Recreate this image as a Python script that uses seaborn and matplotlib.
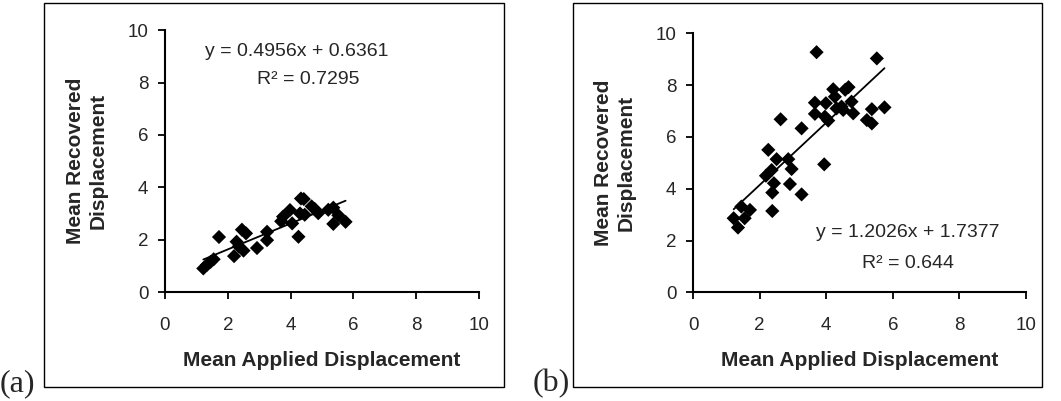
import matplotlib
matplotlib.use("Agg")
import matplotlib.pyplot as plt
import seaborn as sns
import numpy as np
import pandas as pd
from matplotlib.patches import Rectangle

# ---- data ----
applied_a = [1.22, 1.33, 1.45, 1.55, 1.72, 2.20, 2.28, 2.35, 2.45, 2.58, 2.50, 2.93,
             3.25, 3.25, 3.70, 3.76, 3.98, 4.05, 4.25, 4.33, 4.42, 4.30, 4.45, 4.67,
             4.77, 4.88, 5.20, 5.36, 5.36, 5.52, 5.75]
recovered_a = [0.90, 1.03, 1.15, 1.25, 2.10, 1.37, 1.92, 1.74, 2.38, 2.24, 1.58, 1.68,
               2.30, 1.98, 2.70, 2.88, 3.13, 2.62, 2.11, 3.57, 3.55, 3.00, 2.95, 3.27,
               3.17, 3.01, 3.14, 3.22, 2.60, 2.93, 2.68]

applied_b = [3.71, 5.52, 4.21, 4.67, 4.57, 4.26, 3.66, 3.99, 4.76, 4.31, 4.46, 4.51,
             5.37, 5.75, 3.66, 3.96, 4.06, 4.81, 5.22, 5.37, 2.63, 3.26, 2.26, 2.51,
             2.86, 2.19, 2.36, 2.96, 3.94, 2.43, 2.91, 2.38, 3.26, 2.38, 1.45, 1.71,
             1.22, 1.55, 1.35]
recovered_b = [9.27, 9.03, 7.84, 7.92, 7.82, 7.55, 7.32, 7.30, 7.36, 7.10, 7.17, 7.04,
               7.07, 7.14, 6.89, 6.78, 6.63, 6.91, 6.65, 6.52, 6.68, 6.33, 5.50, 5.14,
               5.14, 4.50, 4.72, 4.76, 4.94, 4.21, 4.18, 3.85, 3.78, 3.14, 3.31, 3.18,
               2.86, 2.86, 2.50]

slope_a, intercept_a, r2_a = 0.4956, 0.6361, "0.7295"
slope_b, intercept_b, r2_b = 1.2026, 1.7377, "0.644"

ticks = [0, 2, 4, 6, 8, 10]
xlabel = "Mean Applied Displacement"
ylabel = "Mean Recovered\nDisplacement"

sns.set_theme(style="white")
plt.rcParams["font.family"] = ["Liberation Sans", "DejaVu Sans"]

fig = plt.figure(figsize=(10.61, 4.01), dpi=100)
fig.patch.set_facecolor("white")

panels = [
    dict(x=applied_a, y=recovered_a, m=slope_a, c=intercept_a, r2=r2_a,
         rect=[0.1555, 0.2718, 0.296, 0.653], box=[0.0415, 0.035, 0.4335, 0.9575],
         tag="(a)", tagx=0.0, eq_xy=(4.2, 9.2), r2_xy=(4.55, 8.1)),
    dict(x=applied_b, y=recovered_b, m=slope_b, c=intercept_b, r2=r2_b,
         rect=[0.6532, 0.2710, 0.3138, 0.646], box=[0.540, 0.035, 0.442, 0.9575],
         tag="(b)", tagx=0.502, eq_xy=(6.45, 2.3), r2_xy=(6.45, 1.12)),
]

for p in panels:
    fig.add_artist(Rectangle((p["box"][0], p["box"][1]), p["box"][2], p["box"][3],
                             transform=fig.transFigure, fill=False,
                             edgecolor="black", linewidth=1.0))
    fig.text(p["tagx"], 0.006, p["tag"], fontsize=23,
             family=["Liberation Serif", "DejaVu Serif"], ha="left", va="bottom")

    ax = fig.add_axes(p["rect"])
    ax.set_facecolor("white")
    df = pd.DataFrame({"x": p["x"], "y": p["y"]})
    sns.scatterplot(data=df, x="x", y="y", marker="D", color="black",
                    edgecolor="none", s=52, ax=ax, clip_on=False, zorder=3)
    xs = np.array([min(p["x"]), max(p["x"])])
    line = pd.DataFrame({"x": xs, "y": p["m"] * xs + p["c"]})
    sns.lineplot(data=line, x="x", y="y", color="black", linewidth=1.3, ax=ax, zorder=4)

    ax.set_xlim(0, 10)
    ax.set_ylim(0, 10)
    ax.set_xticks(ticks)
    ax.set_yticks(ticks)
    ax.set_xticklabels([str(t) for t in ticks], fontsize=13.5)
    ax.set_yticklabels([str(t) for t in ticks], fontsize=13.5)
    ax.tick_params(axis="both", direction="out", length=5, width=1.3, color="black",
                   bottom=True, left=True)
    ax.tick_params(axis="x", pad=13)
    ax.tick_params(axis="y", pad=7)
    for s in ["top", "right"]:
        ax.spines[s].set_visible(False)
    for s in ["left", "bottom"]:
        ax.spines[s].set_color("black")
        ax.spines[s].set_linewidth(1.5)
    ax.set_xlabel(xlabel, fontsize=15, fontweight="bold", labelpad=12)
    ax.set_ylabel(ylabel, fontsize=15, fontweight="bold", labelpad=14,
                  linespacing=1.25)
    ax.text(p["eq_xy"][0], p["eq_xy"][1],
            f"y = {p['m']:.4f}x + {p['c']:.4f}", fontsize=14,
            ha="center", va="center")
    ax.text(p["r2_xy"][0], p["r2_xy"][1], f"R\u00b2 = {p['r2']}", fontsize=14,
            ha="center", va="center")

fig.savefig("out.png", dpi=100, facecolor="white")
